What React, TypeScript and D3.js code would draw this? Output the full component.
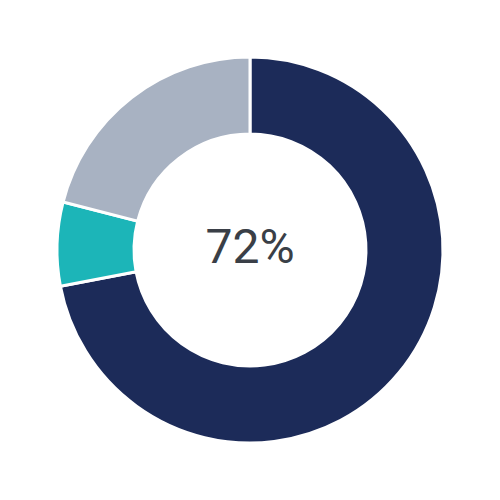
import React from 'react';
import * as d3 from 'd3';

const labels = ['Primary', 'Secondary', 'Other'];
const values = [72, 7, 21];
const colors = ['#1c2b59', '#1cb5b8', '#a8b2c2'];
const centerLabel = '72%';

const App: React.FC = () => {
  const width = 500;
  const height = 500;
  const outer = 193;
  const inner = 116;

  const pie = d3.pie<number>().value(d => d).sort(null);
  const arc = d3.arc<d3.PieArcDatum<number>>().innerRadius(inner).outerRadius(outer);
  const arcs = pie(values);

  return (
    <svg width={width} height={height} style={{ position: 'absolute', left: 0, top: 0 }}>
      <rect width={width} height={height} fill="#ffffff" />
      <g transform={`translate(${width / 2},${height / 2})`}>
        {arcs.map((d, i) => (
          <path key={labels[i]} d={arc(d) || ''} fill={colors[i]} stroke="#ffffff" strokeWidth={3} />
        ))}
        <text
          textAnchor="middle"
          y={13}
          fill="#3a3f47"
          fontSize={48}
          fontFamily="Roboto, 'Open Sans', sans-serif"
        >
          {centerLabel}
        </text>
      </g>
    </svg>
  );
};

export default App;
